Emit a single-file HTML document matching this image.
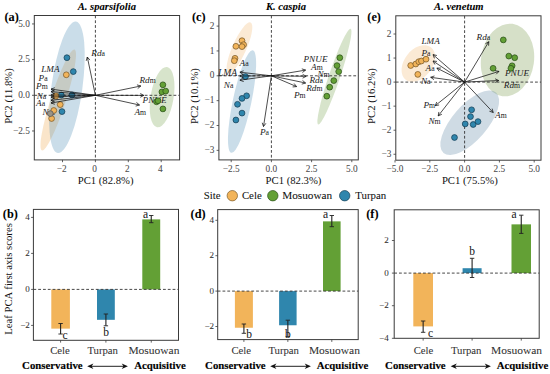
<!DOCTYPE html>
<html><head><meta charset="utf-8"><style>
html,body{margin:0;padding:0;background:#fff;}
svg{display:block;font-family:"Liberation Serif",serif;}
</style></head><body>
<svg width="550" height="374" viewBox="0 0 550 374">
<rect width="550" height="374" fill="#fff"/>
<ellipse cx="58.25" cy="100.00" rx="53.05" ry="7.50" transform="rotate(-72.16 58.25 100.00)" fill="#EFA94F" fill-opacity="0.3"/>
<ellipse cx="66.90" cy="87.30" rx="66.33" ry="15.50" transform="rotate(-82.11 66.90 87.30)" fill="#4F8DB5" fill-opacity="0.3"/>
<ellipse cx="162.10" cy="97.15" rx="30.56" ry="11.50" transform="rotate(-80.58 162.10 97.15)" fill="#7BA652" fill-opacity="0.3"/>
<line x1="95.40" y1="15.50" x2="95.40" y2="159.90" stroke="#333" stroke-width="0.9" stroke-dasharray="2.8,2"/>
<line x1="34.30" y1="95.30" x2="179.60" y2="95.30" stroke="#333" stroke-width="0.9" stroke-dasharray="2.8,2"/>
<text x="91.3" y="55.6" font-size="9.2" font-style="italic" fill="#1a1a1a">Rd<tspan font-style="normal" font-size="7.73">a</tspan></text>
<text x="139.5" y="83" font-size="9.2" font-style="italic" fill="#1a1a1a">Rd<tspan font-style="normal" font-size="7.73">m</tspan></text>
<text x="142.6" y="103.3" font-size="9.2" text-anchor="start" font-weight="normal" font-style="italic" fill="#1a1a1a" >PNUE</text>
<text x="134.4" y="115.4" font-size="9.2" font-style="italic" fill="#1a1a1a">A<tspan font-style="normal" font-size="7.73">m</tspan></text>
<text x="41.2" y="71.9" font-size="9.2" text-anchor="start" font-weight="normal" font-style="italic" fill="#1a1a1a" >LMA</text>
<text x="38.5" y="81.2" font-size="9.2" font-style="italic" fill="#1a1a1a">P<tspan font-style="normal" font-size="7.73">a</tspan></text>
<text x="36.1" y="89.1" font-size="9.2" font-style="italic" fill="#1a1a1a">P<tspan font-style="normal" font-size="7.73">m</tspan></text>
<text x="36.7" y="98.7" font-size="9.2" font-style="italic" fill="#1a1a1a">N<tspan font-style="normal" font-size="7.73">a</tspan></text>
<text x="36.1" y="105.7" font-size="9.2" font-style="italic" fill="#1a1a1a">A<tspan font-style="normal" font-size="7.73">a</tspan></text>
<text x="42.6" y="114.8" font-size="9.2" font-style="italic" fill="#1a1a1a">N<tspan font-style="normal" font-size="7.73">m</tspan></text>
<circle cx="66.90" cy="57.70" r="2.9" fill="#2F86AD" stroke="#173f55" stroke-width="0.75"/>
<circle cx="73.30" cy="71.60" r="2.9" fill="#2F86AD" stroke="#173f55" stroke-width="0.75"/>
<circle cx="72.00" cy="95.00" r="2.9" fill="#2F86AD" stroke="#173f55" stroke-width="0.75"/>
<circle cx="62.00" cy="111.60" r="2.9" fill="#2F86AD" stroke="#173f55" stroke-width="0.75"/>
<circle cx="61.30" cy="95.00" r="2.9" fill="#2F86AD" stroke="#173f55" stroke-width="0.75"/>
<circle cx="66.30" cy="74.80" r="2.9" fill="#F2B45A" stroke="#7a5a2a" stroke-width="0.75"/>
<circle cx="53.80" cy="110.50" r="2.9" fill="#F2B45A" stroke="#7a5a2a" stroke-width="0.75"/>
<circle cx="51.60" cy="118.50" r="2.9" fill="#F2B45A" stroke="#7a5a2a" stroke-width="0.75"/>
<circle cx="60.20" cy="104.60" r="2.9" fill="#F2B45A" stroke="#7a5a2a" stroke-width="0.75"/>
<circle cx="55.90" cy="96.00" r="2.9" fill="#F2B45A" stroke="#7a5a2a" stroke-width="0.75"/>
<circle cx="50.30" cy="113.60" r="2.9" fill="#9a9486" stroke="#555" stroke-width="0.75"/>
<circle cx="162.90" cy="84.80" r="2.9" fill="#63A035" stroke="#2a4f18" stroke-width="0.75"/>
<circle cx="161.90" cy="91.90" r="2.9" fill="#63A035" stroke="#2a4f18" stroke-width="0.75"/>
<circle cx="165.70" cy="91.10" r="2.9" fill="#63A035" stroke="#2a4f18" stroke-width="0.75"/>
<circle cx="156.50" cy="101.80" r="2.9" fill="#63A035" stroke="#2a4f18" stroke-width="0.75"/>
<circle cx="158.00" cy="100.80" r="2.9" fill="#63A035" stroke="#2a4f18" stroke-width="0.75"/>
<circle cx="162.90" cy="108.90" r="2.9" fill="#63A035" stroke="#2a4f18" stroke-width="0.75"/>
<line x1="95.40" y1="95.30" x2="87.30" y2="57.00" stroke="#111" stroke-width="0.75"/>
<line x1="87.30" y1="57.00" x2="89.87" y2="60.07" stroke="#111" stroke-width="0.75"/>
<line x1="87.30" y1="57.00" x2="86.19" y2="60.84" stroke="#111" stroke-width="0.75"/>
<line x1="95.40" y1="95.30" x2="140.80" y2="86.00" stroke="#111" stroke-width="0.75"/>
<line x1="140.80" y1="86.00" x2="137.72" y2="88.55" stroke="#111" stroke-width="0.75"/>
<line x1="140.80" y1="86.00" x2="136.96" y2="84.87" stroke="#111" stroke-width="0.75"/>
<line x1="95.40" y1="95.30" x2="143.80" y2="95.40" stroke="#111" stroke-width="0.75"/>
<line x1="143.80" y1="95.40" x2="140.26" y2="97.27" stroke="#111" stroke-width="0.75"/>
<line x1="143.80" y1="95.40" x2="140.27" y2="93.51" stroke="#111" stroke-width="0.75"/>
<line x1="95.40" y1="95.30" x2="139.50" y2="105.00" stroke="#111" stroke-width="0.75"/>
<line x1="139.50" y1="105.00" x2="135.65" y2="106.08" stroke="#111" stroke-width="0.75"/>
<line x1="139.50" y1="105.00" x2="136.45" y2="102.41" stroke="#111" stroke-width="0.75"/>
<line x1="95.40" y1="95.30" x2="51.00" y2="89.10" stroke="#111" stroke-width="0.75"/>
<line x1="51.00" y1="89.10" x2="54.76" y2="87.73" stroke="#111" stroke-width="0.75"/>
<line x1="51.00" y1="89.10" x2="54.24" y2="91.45" stroke="#111" stroke-width="0.75"/>
<line x1="95.40" y1="95.30" x2="51.00" y2="91.60" stroke="#111" stroke-width="0.75"/>
<line x1="51.00" y1="91.60" x2="54.68" y2="90.02" stroke="#111" stroke-width="0.75"/>
<line x1="51.00" y1="91.60" x2="54.36" y2="93.76" stroke="#111" stroke-width="0.75"/>
<line x1="95.40" y1="95.30" x2="51.00" y2="95.00" stroke="#111" stroke-width="0.75"/>
<line x1="51.00" y1="95.00" x2="54.54" y2="93.15" stroke="#111" stroke-width="0.75"/>
<line x1="51.00" y1="95.00" x2="54.52" y2="96.90" stroke="#111" stroke-width="0.75"/>
<line x1="95.40" y1="95.30" x2="51.00" y2="97.10" stroke="#111" stroke-width="0.75"/>
<line x1="51.00" y1="97.10" x2="54.45" y2="95.08" stroke="#111" stroke-width="0.75"/>
<line x1="51.00" y1="97.10" x2="54.60" y2="98.83" stroke="#111" stroke-width="0.75"/>
<line x1="95.40" y1="95.30" x2="51.00" y2="100.30" stroke="#111" stroke-width="0.75"/>
<line x1="51.00" y1="100.30" x2="54.30" y2="98.04" stroke="#111" stroke-width="0.75"/>
<line x1="51.00" y1="100.30" x2="54.72" y2="101.77" stroke="#111" stroke-width="0.75"/>
<line x1="95.40" y1="95.30" x2="51.00" y2="103.00" stroke="#111" stroke-width="0.75"/>
<line x1="51.00" y1="103.00" x2="54.16" y2="100.55" stroke="#111" stroke-width="0.75"/>
<line x1="51.00" y1="103.00" x2="54.80" y2="104.25" stroke="#111" stroke-width="0.75"/>
<rect x="34.3" y="15.5" width="145.30" height="144.40" fill="none" stroke="#3a3a3a" stroke-width="1.0"/>
<line x1="62.50" y1="159.90" x2="62.50" y2="162.20" stroke="#3a3a3a" stroke-width="0.8"/>
<text x="61.60" y="172.00" font-size="9.3" text-anchor="middle" font-weight="normal" font-style="normal" fill="#4a4a4a" stroke="#4a4a4a" stroke-width="0.05" >−2</text>
<line x1="95.40" y1="159.90" x2="95.40" y2="162.20" stroke="#3a3a3a" stroke-width="0.8"/>
<text x="94.50" y="172.00" font-size="9.3" text-anchor="middle" font-weight="normal" font-style="normal" fill="#4a4a4a" stroke="#4a4a4a" stroke-width="0.05" >0</text>
<line x1="128.30" y1="159.90" x2="128.30" y2="162.20" stroke="#3a3a3a" stroke-width="0.8"/>
<text x="127.40" y="172.00" font-size="9.3" text-anchor="middle" font-weight="normal" font-style="normal" fill="#4a4a4a" stroke="#4a4a4a" stroke-width="0.05" >2</text>
<line x1="161.20" y1="159.90" x2="161.20" y2="162.20" stroke="#3a3a3a" stroke-width="0.8"/>
<text x="160.30" y="172.00" font-size="9.3" text-anchor="middle" font-weight="normal" font-style="normal" fill="#4a4a4a" stroke="#4a4a4a" stroke-width="0.05" >4</text>
<line x1="32.00" y1="23.95" x2="34.30" y2="23.95" stroke="#3a3a3a" stroke-width="0.8"/>
<text x="29.80" y="26.55" font-size="9.3" text-anchor="end" font-weight="normal" font-style="normal" fill="#4a4a4a" stroke="#4a4a4a" stroke-width="0.05" >5.0</text>
<line x1="32.00" y1="59.62" x2="34.30" y2="59.62" stroke="#3a3a3a" stroke-width="0.8"/>
<text x="29.80" y="62.23" font-size="9.3" text-anchor="end" font-weight="normal" font-style="normal" fill="#4a4a4a" stroke="#4a4a4a" stroke-width="0.05" >2.5</text>
<line x1="32.00" y1="95.30" x2="34.30" y2="95.30" stroke="#3a3a3a" stroke-width="0.8"/>
<text x="29.80" y="97.90" font-size="9.3" text-anchor="end" font-weight="normal" font-style="normal" fill="#4a4a4a" stroke="#4a4a4a" stroke-width="0.05" >0.0</text>
<line x1="32.00" y1="130.97" x2="34.30" y2="130.97" stroke="#3a3a3a" stroke-width="0.8"/>
<text x="29.80" y="133.57" font-size="9.3" text-anchor="end" font-weight="normal" font-style="normal" fill="#4a4a4a" stroke="#4a4a4a" stroke-width="0.05" >−2.5</text>
<text x="106.9" y="10.4" font-size="10.6" text-anchor="middle" font-weight="bold" font-style="italic" fill="#000" stroke="#000" stroke-width="0.06" >A. sparsifolia</text>
<text x="4.5" y="20.8" font-size="12.3" text-anchor="start" font-weight="bold" font-style="normal" fill="#000" stroke="#000" stroke-width="0.06" >(a)</text>
<text x="105.6" y="183.6" font-size="10.7" text-anchor="middle" font-weight="normal" font-style="normal" fill="#111" >PC1 (82.8%)</text>
<text x="0" y="0" font-size="10.7" text-anchor="middle" fill="#111" transform="translate(12.3 96) rotate(-90)">PC2 (11.8%)</text>
<ellipse cx="239.45" cy="47.75" rx="27.60" ry="7.00" transform="rotate(-66.17 239.45 47.75)" fill="#EFA94F" fill-opacity="0.24"/>
<ellipse cx="242.05" cy="101.55" rx="52.37" ry="9.30" transform="rotate(-78.15 242.05 101.55)" fill="#4F8DB5" fill-opacity="0.3"/>
<ellipse cx="334.40" cy="76.60" rx="50.47" ry="5.60" transform="rotate(-71.28 334.40 76.60)" fill="#7BA652" fill-opacity="0.3"/>
<line x1="271.40" y1="15.60" x2="271.40" y2="159.90" stroke="#333" stroke-width="0.9" stroke-dasharray="2.8,2"/>
<line x1="218.90" y1="75.80" x2="358.30" y2="75.80" stroke="#333" stroke-width="0.9" stroke-dasharray="2.8,2"/>
<text x="303.5" y="62.4" font-size="9.2" text-anchor="start" font-weight="normal" font-style="italic" fill="#1a1a1a" >PNUE</text>
<text x="311" y="70" font-size="9.2" font-style="italic" fill="#1a1a1a">A<tspan font-style="normal" font-size="7.73">m</tspan></text>
<text x="317.4" y="77" font-size="9.2" font-style="italic" fill="#1a1a1a">N<tspan font-style="normal" font-size="7.73">m</tspan></text>
<text x="309.4" y="83" font-size="9.2" font-style="italic" fill="#1a1a1a">Rd<tspan font-style="normal" font-size="7.73">a</tspan></text>
<text x="306.2" y="90.9" font-size="9.2" font-style="italic" fill="#1a1a1a">Rd<tspan font-style="normal" font-size="7.73">m</tspan></text>
<text x="293.9" y="97.6" font-size="9.2" font-style="italic" fill="#1a1a1a">P<tspan font-style="normal" font-size="7.73">m</tspan></text>
<text x="239.6" y="65.5" font-size="9.2" font-style="italic" fill="#1a1a1a">A<tspan font-style="normal" font-size="7.73">a</tspan></text>
<text x="218" y="76" font-size="9.6" text-anchor="start" font-weight="normal" font-style="italic" fill="#1a1a1a" >LMA</text>
<text x="223.8" y="87.5" font-size="9.2" font-style="italic" fill="#1a1a1a">N<tspan font-style="normal" font-size="7.73">a</tspan></text>
<text x="259.9" y="135" font-size="9.2" font-style="italic" fill="#1a1a1a">P<tspan font-style="normal" font-size="7.73">a</tspan></text>
<circle cx="242.00" cy="40.70" r="2.9" fill="#F2B45A" stroke="#7a5a2a" stroke-width="0.75"/>
<circle cx="243.60" cy="44.70" r="2.9" fill="#F2B45A" stroke="#7a5a2a" stroke-width="0.75"/>
<circle cx="242.00" cy="46.60" r="2.9" fill="#F2B45A" stroke="#7a5a2a" stroke-width="0.75"/>
<circle cx="235.90" cy="46.30" r="2.9" fill="#F2B45A" stroke="#7a5a2a" stroke-width="0.75"/>
<circle cx="235.00" cy="58.30" r="2.9" fill="#F2B45A" stroke="#7a5a2a" stroke-width="0.75"/>
<circle cx="234.30" cy="60.70" r="2.9" fill="#F2B45A" stroke="#7a5a2a" stroke-width="0.75"/>
<circle cx="245.50" cy="76.60" r="2.9" fill="#2F86AD" stroke="#173f55" stroke-width="0.75"/>
<circle cx="246.60" cy="95.80" r="2.9" fill="#2F86AD" stroke="#173f55" stroke-width="0.75"/>
<circle cx="242.00" cy="98.40" r="2.9" fill="#2F86AD" stroke="#173f55" stroke-width="0.75"/>
<circle cx="237.50" cy="104.30" r="2.9" fill="#2F86AD" stroke="#173f55" stroke-width="0.75"/>
<circle cx="242.00" cy="113.10" r="2.9" fill="#2F86AD" stroke="#173f55" stroke-width="0.75"/>
<circle cx="235.90" cy="120.00" r="2.9" fill="#2F86AD" stroke="#173f55" stroke-width="0.75"/>
<circle cx="339.80" cy="57.70" r="2.9" fill="#63A035" stroke="#2a4f18" stroke-width="0.75"/>
<circle cx="337.00" cy="65.60" r="2.9" fill="#63A035" stroke="#2a4f18" stroke-width="0.75"/>
<circle cx="338.70" cy="71.60" r="2.9" fill="#63A035" stroke="#2a4f18" stroke-width="0.75"/>
<circle cx="333.80" cy="80.60" r="2.9" fill="#63A035" stroke="#2a4f18" stroke-width="0.75"/>
<circle cx="329.70" cy="87.20" r="2.9" fill="#63A035" stroke="#2a4f18" stroke-width="0.75"/>
<circle cx="326.80" cy="96.20" r="2.9" fill="#63A035" stroke="#2a4f18" stroke-width="0.75"/>
<line x1="271.40" y1="75.80" x2="305.60" y2="70.10" stroke="#111" stroke-width="0.75"/>
<line x1="305.60" y1="70.10" x2="302.42" y2="72.53" stroke="#111" stroke-width="0.75"/>
<line x1="305.60" y1="70.10" x2="301.81" y2="68.83" stroke="#111" stroke-width="0.75"/>
<line x1="271.40" y1="75.80" x2="306.20" y2="76.30" stroke="#111" stroke-width="0.75"/>
<line x1="306.20" y1="76.30" x2="302.64" y2="78.13" stroke="#111" stroke-width="0.75"/>
<line x1="306.20" y1="76.30" x2="302.70" y2="74.37" stroke="#111" stroke-width="0.75"/>
<line x1="271.40" y1="75.80" x2="305.60" y2="83.00" stroke="#111" stroke-width="0.75"/>
<line x1="305.60" y1="83.00" x2="301.76" y2="84.11" stroke="#111" stroke-width="0.75"/>
<line x1="305.60" y1="83.00" x2="302.53" y2="80.43" stroke="#111" stroke-width="0.75"/>
<line x1="271.40" y1="75.80" x2="296.60" y2="86.60" stroke="#111" stroke-width="0.75"/>
<line x1="296.60" y1="86.60" x2="292.61" y2="86.93" stroke="#111" stroke-width="0.75"/>
<line x1="296.60" y1="86.60" x2="294.09" y2="83.48" stroke="#111" stroke-width="0.75"/>
<line x1="271.40" y1="75.80" x2="239.90" y2="72.20" stroke="#111" stroke-width="0.75"/>
<line x1="239.90" y1="72.20" x2="243.62" y2="70.74" stroke="#111" stroke-width="0.75"/>
<line x1="239.90" y1="72.20" x2="243.20" y2="74.47" stroke="#111" stroke-width="0.75"/>
<line x1="271.40" y1="75.80" x2="239.90" y2="80.20" stroke="#111" stroke-width="0.75"/>
<line x1="239.90" y1="80.20" x2="243.14" y2="77.85" stroke="#111" stroke-width="0.75"/>
<line x1="239.90" y1="80.20" x2="243.66" y2="81.57" stroke="#111" stroke-width="0.75"/>
<line x1="271.40" y1="75.80" x2="263.50" y2="126.50" stroke="#111" stroke-width="0.75"/>
<line x1="263.50" y1="126.50" x2="262.19" y2="122.72" stroke="#111" stroke-width="0.75"/>
<line x1="263.50" y1="126.50" x2="265.90" y2="123.30" stroke="#111" stroke-width="0.75"/>
<line x1="271.40" y1="75.80" x2="239.90" y2="76.00" stroke="#111" stroke-width="0.75"/>
<line x1="239.90" y1="76.00" x2="243.42" y2="74.10" stroke="#111" stroke-width="0.75"/>
<line x1="239.90" y1="76.00" x2="243.44" y2="77.86" stroke="#111" stroke-width="0.75"/>
<rect x="218.9" y="15.6" width="139.40" height="144.30" fill="none" stroke="#3a3a3a" stroke-width="1.0"/>
<line x1="231.20" y1="159.90" x2="231.20" y2="162.20" stroke="#3a3a3a" stroke-width="0.8"/>
<text x="231.20" y="172.00" font-size="9.3" text-anchor="middle" font-weight="normal" font-style="normal" fill="#4a4a4a" stroke="#4a4a4a" stroke-width="0.05" >−2.5</text>
<line x1="271.40" y1="159.90" x2="271.40" y2="162.20" stroke="#3a3a3a" stroke-width="0.8"/>
<text x="271.40" y="172.00" font-size="9.3" text-anchor="middle" font-weight="normal" font-style="normal" fill="#4a4a4a" stroke="#4a4a4a" stroke-width="0.05" >0.0</text>
<line x1="311.60" y1="159.90" x2="311.60" y2="162.20" stroke="#3a3a3a" stroke-width="0.8"/>
<text x="311.60" y="172.00" font-size="9.3" text-anchor="middle" font-weight="normal" font-style="normal" fill="#4a4a4a" stroke="#4a4a4a" stroke-width="0.05" >2.5</text>
<line x1="351.80" y1="159.90" x2="351.80" y2="162.20" stroke="#3a3a3a" stroke-width="0.8"/>
<text x="351.80" y="172.00" font-size="9.3" text-anchor="middle" font-weight="normal" font-style="normal" fill="#4a4a4a" stroke="#4a4a4a" stroke-width="0.05" >5.0</text>
<line x1="216.60" y1="26.10" x2="218.90" y2="26.10" stroke="#3a3a3a" stroke-width="0.8"/>
<text x="214.40" y="28.70" font-size="9.3" text-anchor="end" font-weight="normal" font-style="normal" fill="#4a4a4a" stroke="#4a4a4a" stroke-width="0.05" >2</text>
<line x1="216.60" y1="50.95" x2="218.90" y2="50.95" stroke="#3a3a3a" stroke-width="0.8"/>
<text x="214.40" y="53.55" font-size="9.3" text-anchor="end" font-weight="normal" font-style="normal" fill="#4a4a4a" stroke="#4a4a4a" stroke-width="0.05" >1</text>
<line x1="216.60" y1="75.80" x2="218.90" y2="75.80" stroke="#3a3a3a" stroke-width="0.8"/>
<text x="214.40" y="78.40" font-size="9.3" text-anchor="end" font-weight="normal" font-style="normal" fill="#4a4a4a" stroke="#4a4a4a" stroke-width="0.05" >0</text>
<line x1="216.60" y1="100.65" x2="218.90" y2="100.65" stroke="#3a3a3a" stroke-width="0.8"/>
<text x="214.40" y="103.25" font-size="9.3" text-anchor="end" font-weight="normal" font-style="normal" fill="#4a4a4a" stroke="#4a4a4a" stroke-width="0.05" >−1</text>
<line x1="216.60" y1="125.50" x2="218.90" y2="125.50" stroke="#3a3a3a" stroke-width="0.8"/>
<text x="214.40" y="128.10" font-size="9.3" text-anchor="end" font-weight="normal" font-style="normal" fill="#4a4a4a" stroke="#4a4a4a" stroke-width="0.05" >−2</text>
<line x1="216.60" y1="150.35" x2="218.90" y2="150.35" stroke="#3a3a3a" stroke-width="0.8"/>
<text x="214.40" y="152.95" font-size="9.3" text-anchor="end" font-weight="normal" font-style="normal" fill="#4a4a4a" stroke="#4a4a4a" stroke-width="0.05" >−3</text>
<text x="286" y="10.4" font-size="10.6" text-anchor="middle" font-weight="bold" font-style="italic" fill="#000" stroke="#000" stroke-width="0.06" >K. caspia</text>
<text x="192" y="20.5" font-size="12.3" text-anchor="start" font-weight="bold" font-style="normal" fill="#000" stroke="#000" stroke-width="0.06" >(c)</text>
<text x="293.5" y="183.8" font-size="10.7" text-anchor="middle" font-weight="normal" font-style="normal" fill="#111" >PC1 (82.3%)</text>
<text x="0" y="0" font-size="10.7" text-anchor="middle" fill="#111" transform="translate(198 96) rotate(-90)">PC2 (10.1%)</text>
<ellipse cx="418.3" cy="63.5" rx="20.5" ry="14" transform="rotate(-52 418.3 63.5)" fill="#EFA94F" fill-opacity="0.24"/>
<ellipse cx="507.5" cy="60" rx="26.5" ry="36.5" transform="rotate(8 507.5 60)" fill="#76984A" fill-opacity="0.3"/>
<ellipse cx="469.75" cy="122.75" rx="40.05" ry="17.50" transform="rotate(-49.05 469.75 122.75)" fill="#5F88A6" fill-opacity="0.3"/>
<line x1="464.60" y1="15.80" x2="464.60" y2="160.20" stroke="#333" stroke-width="0.9" stroke-dasharray="2.8,2"/>
<line x1="395.80" y1="82.10" x2="541.00" y2="82.10" stroke="#333" stroke-width="0.9" stroke-dasharray="2.8,2"/>
<text x="421.4" y="43.7" font-size="9.2" text-anchor="start" font-weight="normal" font-style="italic" fill="#1a1a1a" >LMA</text>
<text x="421.4" y="56.4" font-size="9.2" font-style="italic" fill="#1a1a1a">P<tspan font-style="normal" font-size="7.73">a</tspan></text>
<text x="425.5" y="71.1" font-size="9.2" font-style="italic" fill="#1a1a1a">A<tspan font-style="normal" font-size="7.73">a</tspan></text>
<text x="420.9" y="83.8" font-size="9.2" font-style="italic" fill="#1a1a1a">N<tspan font-style="normal" font-size="7.73">a</tspan></text>
<text x="476.6" y="40.4" font-size="9.2" font-style="italic" fill="#1a1a1a">Rd<tspan font-style="normal" font-size="7.73">a</tspan></text>
<text x="505" y="76" font-size="9.2" text-anchor="start" font-weight="normal" font-style="italic" fill="#1a1a1a" >PNUE</text>
<text x="503.8" y="88.2" font-size="9.2" font-style="italic" fill="#1a1a1a">Rd<tspan font-style="normal" font-size="7.73">m</tspan></text>
<text x="423.4" y="108" font-size="9.2" font-style="italic" fill="#1a1a1a">P<tspan font-style="normal" font-size="7.73">m</tspan></text>
<text x="428.4" y="123.9" font-size="9.2" font-style="italic" fill="#1a1a1a">N<tspan font-style="normal" font-size="7.73">m</tspan></text>
<text x="495" y="117.7" font-size="9.2" font-style="italic" fill="#1a1a1a">A<tspan font-style="normal" font-size="7.73">m</tspan></text>
<circle cx="410.70" cy="65.50" r="2.9" fill="#F2B45A" stroke="#7a5a2a" stroke-width="0.75"/>
<circle cx="415.80" cy="64.00" r="2.9" fill="#F2B45A" stroke="#7a5a2a" stroke-width="0.75"/>
<circle cx="418.80" cy="61.70" r="2.9" fill="#F2B45A" stroke="#7a5a2a" stroke-width="0.75"/>
<circle cx="421.40" cy="61.00" r="2.9" fill="#F2B45A" stroke="#7a5a2a" stroke-width="0.75"/>
<circle cx="426.00" cy="59.20" r="2.9" fill="#F2B45A" stroke="#7a5a2a" stroke-width="0.75"/>
<circle cx="417.80" cy="74.40" r="2.9" fill="#F2B45A" stroke="#7a5a2a" stroke-width="0.75"/>
<circle cx="503.30" cy="39.90" r="2.9" fill="#63A035" stroke="#2a4f18" stroke-width="0.75"/>
<circle cx="508.80" cy="56.10" r="2.9" fill="#63A035" stroke="#2a4f18" stroke-width="0.75"/>
<circle cx="514.70" cy="57.70" r="2.9" fill="#63A035" stroke="#2a4f18" stroke-width="0.75"/>
<circle cx="512.10" cy="65.80" r="2.9" fill="#63A035" stroke="#2a4f18" stroke-width="0.75"/>
<circle cx="510.90" cy="68.30" r="2.9" fill="#63A035" stroke="#2a4f18" stroke-width="0.75"/>
<circle cx="493.10" cy="68.30" r="2.9" fill="#63A035" stroke="#2a4f18" stroke-width="0.75"/>
<circle cx="471.60" cy="109.80" r="2.9" fill="#2F86AD" stroke="#173f55" stroke-width="0.75"/>
<circle cx="470.50" cy="116.60" r="2.9" fill="#2F86AD" stroke="#173f55" stroke-width="0.75"/>
<circle cx="465.20" cy="123.90" r="2.9" fill="#2F86AD" stroke="#173f55" stroke-width="0.75"/>
<circle cx="473.20" cy="124.50" r="2.9" fill="#2F86AD" stroke="#173f55" stroke-width="0.75"/>
<circle cx="478.00" cy="121.60" r="2.9" fill="#2F86AD" stroke="#173f55" stroke-width="0.75"/>
<circle cx="454.50" cy="137.50" r="2.9" fill="#2F86AD" stroke="#173f55" stroke-width="0.75"/>
<line x1="464.60" y1="82.10" x2="433.00" y2="54.60" stroke="#111" stroke-width="0.75"/>
<line x1="433.00" y1="54.60" x2="436.90" y2="55.50" stroke="#111" stroke-width="0.75"/>
<line x1="433.00" y1="54.60" x2="434.43" y2="58.34" stroke="#111" stroke-width="0.75"/>
<line x1="464.60" y1="82.10" x2="433.00" y2="61.00" stroke="#111" stroke-width="0.75"/>
<line x1="433.00" y1="61.00" x2="436.98" y2="61.40" stroke="#111" stroke-width="0.75"/>
<line x1="433.00" y1="61.00" x2="434.89" y2="64.52" stroke="#111" stroke-width="0.75"/>
<line x1="464.60" y1="82.10" x2="436.90" y2="68.10" stroke="#111" stroke-width="0.75"/>
<line x1="436.90" y1="68.10" x2="440.90" y2="68.02" stroke="#111" stroke-width="0.75"/>
<line x1="436.90" y1="68.10" x2="439.21" y2="71.37" stroke="#111" stroke-width="0.75"/>
<line x1="464.60" y1="82.10" x2="430.70" y2="77.30" stroke="#111" stroke-width="0.75"/>
<line x1="430.70" y1="77.30" x2="434.46" y2="75.94" stroke="#111" stroke-width="0.75"/>
<line x1="430.70" y1="77.30" x2="433.93" y2="79.65" stroke="#111" stroke-width="0.75"/>
<line x1="464.60" y1="82.10" x2="488.80" y2="41.70" stroke="#111" stroke-width="0.75"/>
<line x1="488.80" y1="41.70" x2="488.60" y2="45.69" stroke="#111" stroke-width="0.75"/>
<line x1="488.80" y1="41.70" x2="485.37" y2="43.76" stroke="#111" stroke-width="0.75"/>
<line x1="464.60" y1="82.10" x2="499.00" y2="71.40" stroke="#111" stroke-width="0.75"/>
<line x1="499.00" y1="71.40" x2="496.19" y2="74.24" stroke="#111" stroke-width="0.75"/>
<line x1="499.00" y1="71.40" x2="495.07" y2="70.66" stroke="#111" stroke-width="0.75"/>
<line x1="464.60" y1="82.10" x2="498.70" y2="80.50" stroke="#111" stroke-width="0.75"/>
<line x1="498.70" y1="80.50" x2="495.26" y2="82.54" stroke="#111" stroke-width="0.75"/>
<line x1="498.70" y1="80.50" x2="495.08" y2="78.79" stroke="#111" stroke-width="0.75"/>
<line x1="464.60" y1="82.10" x2="435.20" y2="105.70" stroke="#111" stroke-width="0.75"/>
<line x1="435.20" y1="105.70" x2="436.78" y2="102.02" stroke="#111" stroke-width="0.75"/>
<line x1="435.20" y1="105.70" x2="439.13" y2="104.95" stroke="#111" stroke-width="0.75"/>
<line x1="464.60" y1="82.10" x2="438.20" y2="115.90" stroke="#111" stroke-width="0.75"/>
<line x1="438.20" y1="115.90" x2="438.89" y2="111.96" stroke="#111" stroke-width="0.75"/>
<line x1="438.20" y1="115.90" x2="441.85" y2="114.27" stroke="#111" stroke-width="0.75"/>
<line x1="464.60" y1="82.10" x2="493.20" y2="112.50" stroke="#111" stroke-width="0.75"/>
<line x1="493.20" y1="112.50" x2="489.41" y2="111.21" stroke="#111" stroke-width="0.75"/>
<line x1="493.20" y1="112.50" x2="492.15" y2="108.64" stroke="#111" stroke-width="0.75"/>
<rect x="395.8" y="15.8" width="145.20" height="144.40" fill="none" stroke="#3a3a3a" stroke-width="1.0"/>
<line x1="395.00" y1="160.20" x2="395.00" y2="162.50" stroke="#3a3a3a" stroke-width="0.8"/>
<text x="395.00" y="172.30" font-size="9.3" text-anchor="middle" font-weight="normal" font-style="normal" fill="#4a4a4a" stroke="#4a4a4a" stroke-width="0.05" >−5.0</text>
<line x1="429.80" y1="160.20" x2="429.80" y2="162.50" stroke="#3a3a3a" stroke-width="0.8"/>
<text x="429.80" y="172.30" font-size="9.3" text-anchor="middle" font-weight="normal" font-style="normal" fill="#4a4a4a" stroke="#4a4a4a" stroke-width="0.05" >−2.5</text>
<line x1="464.60" y1="160.20" x2="464.60" y2="162.50" stroke="#3a3a3a" stroke-width="0.8"/>
<text x="464.60" y="172.30" font-size="9.3" text-anchor="middle" font-weight="normal" font-style="normal" fill="#4a4a4a" stroke="#4a4a4a" stroke-width="0.05" >0.0</text>
<line x1="499.40" y1="160.20" x2="499.40" y2="162.50" stroke="#3a3a3a" stroke-width="0.8"/>
<text x="499.40" y="172.30" font-size="9.3" text-anchor="middle" font-weight="normal" font-style="normal" fill="#4a4a4a" stroke="#4a4a4a" stroke-width="0.05" >2.5</text>
<line x1="534.20" y1="160.20" x2="534.20" y2="162.50" stroke="#3a3a3a" stroke-width="0.8"/>
<text x="534.20" y="172.30" font-size="9.3" text-anchor="middle" font-weight="normal" font-style="normal" fill="#4a4a4a" stroke="#4a4a4a" stroke-width="0.05" >5.0</text>
<line x1="393.50" y1="34.00" x2="395.80" y2="34.00" stroke="#3a3a3a" stroke-width="0.8"/>
<text x="391.30" y="36.60" font-size="9.3" text-anchor="end" font-weight="normal" font-style="normal" fill="#4a4a4a" stroke="#4a4a4a" stroke-width="0.05" >2</text>
<line x1="393.50" y1="58.05" x2="395.80" y2="58.05" stroke="#3a3a3a" stroke-width="0.8"/>
<text x="391.30" y="60.65" font-size="9.3" text-anchor="end" font-weight="normal" font-style="normal" fill="#4a4a4a" stroke="#4a4a4a" stroke-width="0.05" >1</text>
<line x1="393.50" y1="82.10" x2="395.80" y2="82.10" stroke="#3a3a3a" stroke-width="0.8"/>
<text x="391.30" y="84.70" font-size="9.3" text-anchor="end" font-weight="normal" font-style="normal" fill="#4a4a4a" stroke="#4a4a4a" stroke-width="0.05" >0</text>
<line x1="393.50" y1="106.15" x2="395.80" y2="106.15" stroke="#3a3a3a" stroke-width="0.8"/>
<text x="391.30" y="108.75" font-size="9.3" text-anchor="end" font-weight="normal" font-style="normal" fill="#4a4a4a" stroke="#4a4a4a" stroke-width="0.05" >−1</text>
<line x1="393.50" y1="130.20" x2="395.80" y2="130.20" stroke="#3a3a3a" stroke-width="0.8"/>
<text x="391.30" y="132.80" font-size="9.3" text-anchor="end" font-weight="normal" font-style="normal" fill="#4a4a4a" stroke="#4a4a4a" stroke-width="0.05" >−2</text>
<line x1="393.50" y1="154.25" x2="395.80" y2="154.25" stroke="#3a3a3a" stroke-width="0.8"/>
<text x="391.30" y="156.85" font-size="9.3" text-anchor="end" font-weight="normal" font-style="normal" fill="#4a4a4a" stroke="#4a4a4a" stroke-width="0.05" >−3</text>
<text x="458.8" y="10.4" font-size="10.6" text-anchor="middle" font-weight="bold" font-style="italic" fill="#000" stroke="#000" stroke-width="0.06" >A. venetum</text>
<text x="367.3" y="20.5" font-size="12.3" text-anchor="start" font-weight="bold" font-style="normal" fill="#000" stroke="#000" stroke-width="0.06" >(e)</text>
<text x="469.8" y="184.1" font-size="10.7" text-anchor="middle" font-weight="normal" font-style="normal" fill="#111" >PC1 (75.5%)</text>
<text x="0" y="0" font-size="10.7" text-anchor="middle" fill="#111" transform="translate(375 96) rotate(-90)">PC2 (16.2%)</text>
<text x="203.7" y="198.5" font-size="10.8" text-anchor="start" font-weight="normal" font-style="normal" fill="#111" stroke="#111" stroke-width="0.06" >Site</text>
<circle cx="232.3" cy="195.7" r="5.2" fill="#F2B45A" stroke="#7a5a2a" stroke-width="0.7"/>
<text x="241.9" y="198.5" font-size="10.8" text-anchor="start" font-weight="normal" font-style="normal" fill="#111" stroke="#111" stroke-width="0.06" >Cele</text>
<circle cx="272.8" cy="195.7" r="5.2" fill="#63A035" stroke="#2a4f18" stroke-width="0.7"/>
<text x="282.2" y="198.5" font-size="10.8" text-anchor="start" font-weight="normal" font-style="normal" fill="#111" stroke="#111" stroke-width="0.06" textLength="50" lengthAdjust="spacingAndGlyphs">Mosuowan</text>
<circle cx="344.7" cy="195.7" r="5.2" fill="#2F86AD" stroke="#173f55" stroke-width="0.7"/>
<text x="355.3" y="198.5" font-size="10.8" text-anchor="start" font-weight="normal" font-style="normal" fill="#111" stroke="#111" stroke-width="0.06" >Turpan</text>
<rect x="51.3" y="289.40" width="18.60" height="39.24" fill="#F2B45A"/>
<rect x="97" y="289.40" width="17.80" height="30.42" fill="#2F86AD"/>
<rect x="142.3" y="219.38" width="17.90" height="70.02" fill="#63A035"/>
<line x1="33.40" y1="289.40" x2="178.50" y2="289.40" stroke="#333" stroke-width="0.9" stroke-dasharray="2.8,2"/>
<line x1="60.60" y1="323.50" x2="60.60" y2="334.00" stroke="#222" stroke-width="1.1"/>
<line x1="58.40" y1="323.50" x2="62.80" y2="323.50" stroke="#222" stroke-width="0.9"/>
<line x1="58.40" y1="334.00" x2="62.80" y2="334.00" stroke="#222" stroke-width="0.9"/>
<text x="65" y="339.3" font-size="11.5" text-anchor="middle" font-weight="normal" font-style="normal" fill="#222" stroke="#222" stroke-width="0.06" >c</text>
<line x1="105.90" y1="314.00" x2="105.90" y2="325.80" stroke="#222" stroke-width="1.1"/>
<line x1="103.70" y1="314.00" x2="108.10" y2="314.00" stroke="#222" stroke-width="0.9"/>
<line x1="103.70" y1="325.80" x2="108.10" y2="325.80" stroke="#222" stroke-width="0.9"/>
<text x="106" y="336.3" font-size="11.5" text-anchor="middle" font-weight="normal" font-style="normal" fill="#222" stroke="#222" stroke-width="0.06" >b</text>
<line x1="151.25" y1="215.50" x2="151.25" y2="222.70" stroke="#222" stroke-width="1.1"/>
<line x1="149.05" y1="215.50" x2="153.45" y2="215.50" stroke="#222" stroke-width="0.9"/>
<line x1="149.05" y1="222.70" x2="153.45" y2="222.70" stroke="#222" stroke-width="0.9"/>
<text x="145.5" y="218.4" font-size="11.5" text-anchor="middle" font-weight="normal" font-style="normal" fill="#222" stroke="#222" stroke-width="0.06" >a</text>
<rect x="33.4" y="209.4" width="145.10" height="130.90" fill="none" stroke="#3a3a3a" stroke-width="1.0"/>
<line x1="31.10" y1="217.40" x2="33.40" y2="217.40" stroke="#3a3a3a" stroke-width="0.8"/>
<text x="29.80" y="220.00" font-size="9.0" text-anchor="end" font-weight="normal" font-style="normal" fill="#333" stroke="#333" stroke-width="0.05" >4</text>
<line x1="31.10" y1="253.40" x2="33.40" y2="253.40" stroke="#3a3a3a" stroke-width="0.8"/>
<text x="29.80" y="256.00" font-size="9.0" text-anchor="end" font-weight="normal" font-style="normal" fill="#333" stroke="#333" stroke-width="0.05" >2</text>
<line x1="31.10" y1="289.40" x2="33.40" y2="289.40" stroke="#3a3a3a" stroke-width="0.8"/>
<text x="29.80" y="292.00" font-size="9.0" text-anchor="end" font-weight="normal" font-style="normal" fill="#333" stroke="#333" stroke-width="0.05" >0</text>
<line x1="31.10" y1="325.40" x2="33.40" y2="325.40" stroke="#3a3a3a" stroke-width="0.8"/>
<text x="29.80" y="328.00" font-size="9.0" text-anchor="end" font-weight="normal" font-style="normal" fill="#333" stroke="#333" stroke-width="0.05" >−2</text>
<line x1="60.60" y1="340.30" x2="60.60" y2="342.60" stroke="#3a3a3a" stroke-width="0.8"/>
<text x="59.95" y="353.6" font-size="10.8" text-anchor="middle" font-weight="normal" font-style="normal" fill="#333" stroke="#333" stroke-width="0.06" textLength="19.6" lengthAdjust="spacingAndGlyphs">Cele</text>
<line x1="105.90" y1="340.30" x2="105.90" y2="342.60" stroke="#3a3a3a" stroke-width="0.8"/>
<text x="102.70" y="353.6" font-size="10.8" text-anchor="middle" font-weight="normal" font-style="normal" fill="#333" stroke="#333" stroke-width="0.06" textLength="30.6" lengthAdjust="spacingAndGlyphs">Turpan</text>
<line x1="151.25" y1="340.30" x2="151.25" y2="342.60" stroke="#3a3a3a" stroke-width="0.8"/>
<text x="153.90" y="353.6" font-size="10.8" text-anchor="middle" font-weight="normal" font-style="normal" fill="#333" stroke="#333" stroke-width="0.06" textLength="51" lengthAdjust="spacingAndGlyphs">Mosuowan</text>
<text x="2.8" y="218.0" font-size="12.3" text-anchor="start" font-weight="bold" font-style="normal" fill="#000" stroke="#000" stroke-width="0.06" >(b)</text>
<rect x="234.9" y="291.10" width="18.00" height="36.64" fill="#F2B45A"/>
<rect x="279.1" y="291.10" width="17.50" height="34.16" fill="#2F86AD"/>
<rect x="323" y="221.36" width="17.60" height="69.74" fill="#63A035"/>
<line x1="217.70" y1="291.10" x2="358.20" y2="291.10" stroke="#333" stroke-width="0.9" stroke-dasharray="2.8,2"/>
<line x1="243.90" y1="324.00" x2="243.90" y2="333.30" stroke="#222" stroke-width="1.1"/>
<line x1="241.70" y1="324.00" x2="246.10" y2="324.00" stroke="#222" stroke-width="0.9"/>
<line x1="241.70" y1="333.30" x2="246.10" y2="333.30" stroke="#222" stroke-width="0.9"/>
<text x="249" y="337.5" font-size="11.5" text-anchor="middle" font-weight="normal" font-style="normal" fill="#222" stroke="#222" stroke-width="0.06" >b</text>
<line x1="287.85" y1="320.20" x2="287.85" y2="336.60" stroke="#222" stroke-width="1.1"/>
<line x1="285.65" y1="320.20" x2="290.05" y2="320.20" stroke="#222" stroke-width="0.9"/>
<line x1="285.65" y1="336.60" x2="290.05" y2="336.60" stroke="#222" stroke-width="0.9"/>
<text x="287.9" y="338.3" font-size="11.5" text-anchor="middle" font-weight="normal" font-style="normal" fill="#222" stroke="#222" stroke-width="0.06" >b</text>
<line x1="331.80" y1="215.50" x2="331.80" y2="226.70" stroke="#222" stroke-width="1.1"/>
<line x1="329.60" y1="215.50" x2="334.00" y2="215.50" stroke="#222" stroke-width="0.9"/>
<line x1="329.60" y1="226.70" x2="334.00" y2="226.70" stroke="#222" stroke-width="0.9"/>
<text x="325.5" y="217.6" font-size="11.5" text-anchor="middle" font-weight="normal" font-style="normal" fill="#222" stroke="#222" stroke-width="0.06" >a</text>
<rect x="217.7" y="209.6" width="140.50" height="130.00" fill="none" stroke="#3a3a3a" stroke-width="1.0"/>
<line x1="215.40" y1="220.30" x2="217.70" y2="220.30" stroke="#3a3a3a" stroke-width="0.8"/>
<text x="214.10" y="222.90" font-size="9.0" text-anchor="end" font-weight="normal" font-style="normal" fill="#333" stroke="#333" stroke-width="0.05" >4</text>
<line x1="215.40" y1="255.70" x2="217.70" y2="255.70" stroke="#3a3a3a" stroke-width="0.8"/>
<text x="214.10" y="258.30" font-size="9.0" text-anchor="end" font-weight="normal" font-style="normal" fill="#333" stroke="#333" stroke-width="0.05" >2</text>
<line x1="215.40" y1="291.10" x2="217.70" y2="291.10" stroke="#3a3a3a" stroke-width="0.8"/>
<text x="214.10" y="293.70" font-size="9.0" text-anchor="end" font-weight="normal" font-style="normal" fill="#333" stroke="#333" stroke-width="0.05" >0</text>
<line x1="215.40" y1="326.50" x2="217.70" y2="326.50" stroke="#3a3a3a" stroke-width="0.8"/>
<text x="214.10" y="329.10" font-size="9.0" text-anchor="end" font-weight="normal" font-style="normal" fill="#333" stroke="#333" stroke-width="0.05" >−2</text>
<line x1="243.90" y1="339.60" x2="243.90" y2="341.90" stroke="#3a3a3a" stroke-width="0.8"/>
<text x="241.20" y="353.6" font-size="10.8" text-anchor="middle" font-weight="normal" font-style="normal" fill="#333" stroke="#333" stroke-width="0.06" textLength="19.6" lengthAdjust="spacingAndGlyphs">Cele</text>
<line x1="287.85" y1="339.60" x2="287.85" y2="341.90" stroke="#3a3a3a" stroke-width="0.8"/>
<text x="283.70" y="353.6" font-size="10.8" text-anchor="middle" font-weight="normal" font-style="normal" fill="#333" stroke="#333" stroke-width="0.06" textLength="30.6" lengthAdjust="spacingAndGlyphs">Turpan</text>
<line x1="331.80" y1="339.60" x2="331.80" y2="341.90" stroke="#3a3a3a" stroke-width="0.8"/>
<text x="334.40" y="353.6" font-size="10.8" text-anchor="middle" font-weight="normal" font-style="normal" fill="#333" stroke="#333" stroke-width="0.06" textLength="51" lengthAdjust="spacingAndGlyphs">Mosuowan</text>
<text x="190.6" y="218.0" font-size="12.3" text-anchor="start" font-weight="bold" font-style="normal" fill="#000" stroke="#000" stroke-width="0.06" >(d)</text>
<rect x="413.3" y="273.10" width="19.70" height="53.30" fill="#F2B45A"/>
<rect x="462.6" y="268.21" width="19.00" height="4.89" fill="#2F86AD"/>
<rect x="511.5" y="224.36" width="19.50" height="48.74" fill="#63A035"/>
<line x1="394.20" y1="273.10" x2="539.20" y2="273.10" stroke="#333" stroke-width="0.9" stroke-dasharray="2.8,2"/>
<line x1="423.15" y1="321.00" x2="423.15" y2="332.30" stroke="#222" stroke-width="1.1"/>
<line x1="420.95" y1="321.00" x2="425.35" y2="321.00" stroke="#222" stroke-width="0.9"/>
<line x1="420.95" y1="332.30" x2="425.35" y2="332.30" stroke="#222" stroke-width="0.9"/>
<text x="430.5" y="336.8" font-size="11.5" text-anchor="middle" font-weight="normal" font-style="normal" fill="#222" stroke="#222" stroke-width="0.06" >c</text>
<line x1="472.10" y1="258.30" x2="472.10" y2="277.50" stroke="#222" stroke-width="1.1"/>
<line x1="469.90" y1="258.30" x2="474.30" y2="258.30" stroke="#222" stroke-width="0.9"/>
<line x1="469.90" y1="277.50" x2="474.30" y2="277.50" stroke="#222" stroke-width="0.9"/>
<text x="472" y="255.4" font-size="11.5" text-anchor="middle" font-weight="normal" font-style="normal" fill="#222" stroke="#222" stroke-width="0.06" >b</text>
<line x1="521.25" y1="215.20" x2="521.25" y2="233.40" stroke="#222" stroke-width="1.1"/>
<line x1="519.05" y1="215.20" x2="523.45" y2="215.20" stroke="#222" stroke-width="0.9"/>
<line x1="519.05" y1="233.40" x2="523.45" y2="233.40" stroke="#222" stroke-width="0.9"/>
<text x="514" y="217.6" font-size="11.5" text-anchor="middle" font-weight="normal" font-style="normal" fill="#222" stroke="#222" stroke-width="0.06" >a</text>
<rect x="394.2" y="209.8" width="145.00" height="128.50" fill="none" stroke="#3a3a3a" stroke-width="1.0"/>
<line x1="391.90" y1="240.50" x2="394.20" y2="240.50" stroke="#3a3a3a" stroke-width="0.8"/>
<text x="388.70" y="243.10" font-size="9.0" text-anchor="end" font-weight="normal" font-style="normal" fill="#333" stroke="#333" stroke-width="0.05" >2</text>
<line x1="391.90" y1="273.10" x2="394.20" y2="273.10" stroke="#3a3a3a" stroke-width="0.8"/>
<text x="388.70" y="275.70" font-size="9.0" text-anchor="end" font-weight="normal" font-style="normal" fill="#333" stroke="#333" stroke-width="0.05" >0</text>
<line x1="391.90" y1="305.70" x2="394.20" y2="305.70" stroke="#3a3a3a" stroke-width="0.8"/>
<text x="388.70" y="308.30" font-size="9.0" text-anchor="end" font-weight="normal" font-style="normal" fill="#333" stroke="#333" stroke-width="0.05" >−2</text>
<line x1="391.90" y1="338.30" x2="394.20" y2="338.30" stroke="#3a3a3a" stroke-width="0.8"/>
<text x="388.70" y="340.90" font-size="9.0" text-anchor="end" font-weight="normal" font-style="normal" fill="#333" stroke="#333" stroke-width="0.05" >−4</text>
<line x1="423.15" y1="338.30" x2="423.15" y2="340.60" stroke="#3a3a3a" stroke-width="0.8"/>
<text x="423.45" y="353.6" font-size="10.8" text-anchor="middle" font-weight="normal" font-style="normal" fill="#333" stroke="#333" stroke-width="0.06" textLength="19.6" lengthAdjust="spacingAndGlyphs">Cele</text>
<line x1="472.10" y1="338.30" x2="472.10" y2="340.60" stroke="#3a3a3a" stroke-width="0.8"/>
<text x="466.20" y="353.6" font-size="10.8" text-anchor="middle" font-weight="normal" font-style="normal" fill="#333" stroke="#333" stroke-width="0.06" textLength="30.6" lengthAdjust="spacingAndGlyphs">Turpan</text>
<line x1="521.25" y1="338.30" x2="521.25" y2="340.60" stroke="#3a3a3a" stroke-width="0.8"/>
<text x="516.60" y="353.6" font-size="10.8" text-anchor="middle" font-weight="normal" font-style="normal" fill="#333" stroke="#333" stroke-width="0.06" textLength="51" lengthAdjust="spacingAndGlyphs">Mosuowan</text>
<text x="366.2" y="217.5" font-size="12.3" text-anchor="start" font-weight="bold" font-style="normal" fill="#000" stroke="#000" stroke-width="0.06" >(f)</text>
<text x="0" y="0" font-size="10.7" text-anchor="middle" fill="#111" transform="translate(12 279) rotate(-90)">Leaf PCA first axis scores</text>
<text x="22.1" y="369.2" font-size="10.8" text-anchor="start" font-weight="bold" font-style="normal" fill="#000" stroke="#000" stroke-width="0.15" >Conservative</text>
<text x="134.2" y="369.2" font-size="10.8" text-anchor="start" font-weight="bold" font-style="normal" fill="#000" stroke="#000" stroke-width="0.15" >Acquisitive</text>
<line x1="90.20" y1="366.30" x2="124.90" y2="366.30" stroke="#222" stroke-width="1.0"/>
<path d="M87.20 366.3 L93.40 363.6 L91.60 366.3 L93.40 369.0 Z" fill="#111"/>
<path d="M127.90 366.3 L121.70 363.6 L123.50 366.3 L121.70 369.0 Z" fill="#111"/>
<text x="205.1" y="369.2" font-size="10.8" text-anchor="start" font-weight="bold" font-style="normal" fill="#000" stroke="#000" stroke-width="0.15" >Conservative</text>
<text x="316.7" y="369.2" font-size="10.8" text-anchor="start" font-weight="bold" font-style="normal" fill="#000" stroke="#000" stroke-width="0.15" >Acquisitive</text>
<line x1="273.20" y1="366.30" x2="307.90" y2="366.30" stroke="#222" stroke-width="1.0"/>
<path d="M270.20 366.3 L276.40 363.6 L274.60 366.3 L276.40 369.0 Z" fill="#111"/>
<path d="M310.90 366.3 L304.70 363.6 L306.50 366.3 L304.70 369.0 Z" fill="#111"/>
<text x="385.1" y="369.2" font-size="10.8" text-anchor="start" font-weight="bold" font-style="normal" fill="#000" stroke="#000" stroke-width="0.15" >Conservative</text>
<text x="496.7" y="369.2" font-size="10.8" text-anchor="start" font-weight="bold" font-style="normal" fill="#000" stroke="#000" stroke-width="0.15" >Acquisitive</text>
<line x1="453.60" y1="366.30" x2="487.90" y2="366.30" stroke="#222" stroke-width="1.0"/>
<path d="M450.60 366.3 L456.80 363.6 L455.00 366.3 L456.80 369.0 Z" fill="#111"/>
<path d="M490.90 366.3 L484.70 363.6 L486.50 366.3 L484.70 369.0 Z" fill="#111"/>
</svg></body></html>
